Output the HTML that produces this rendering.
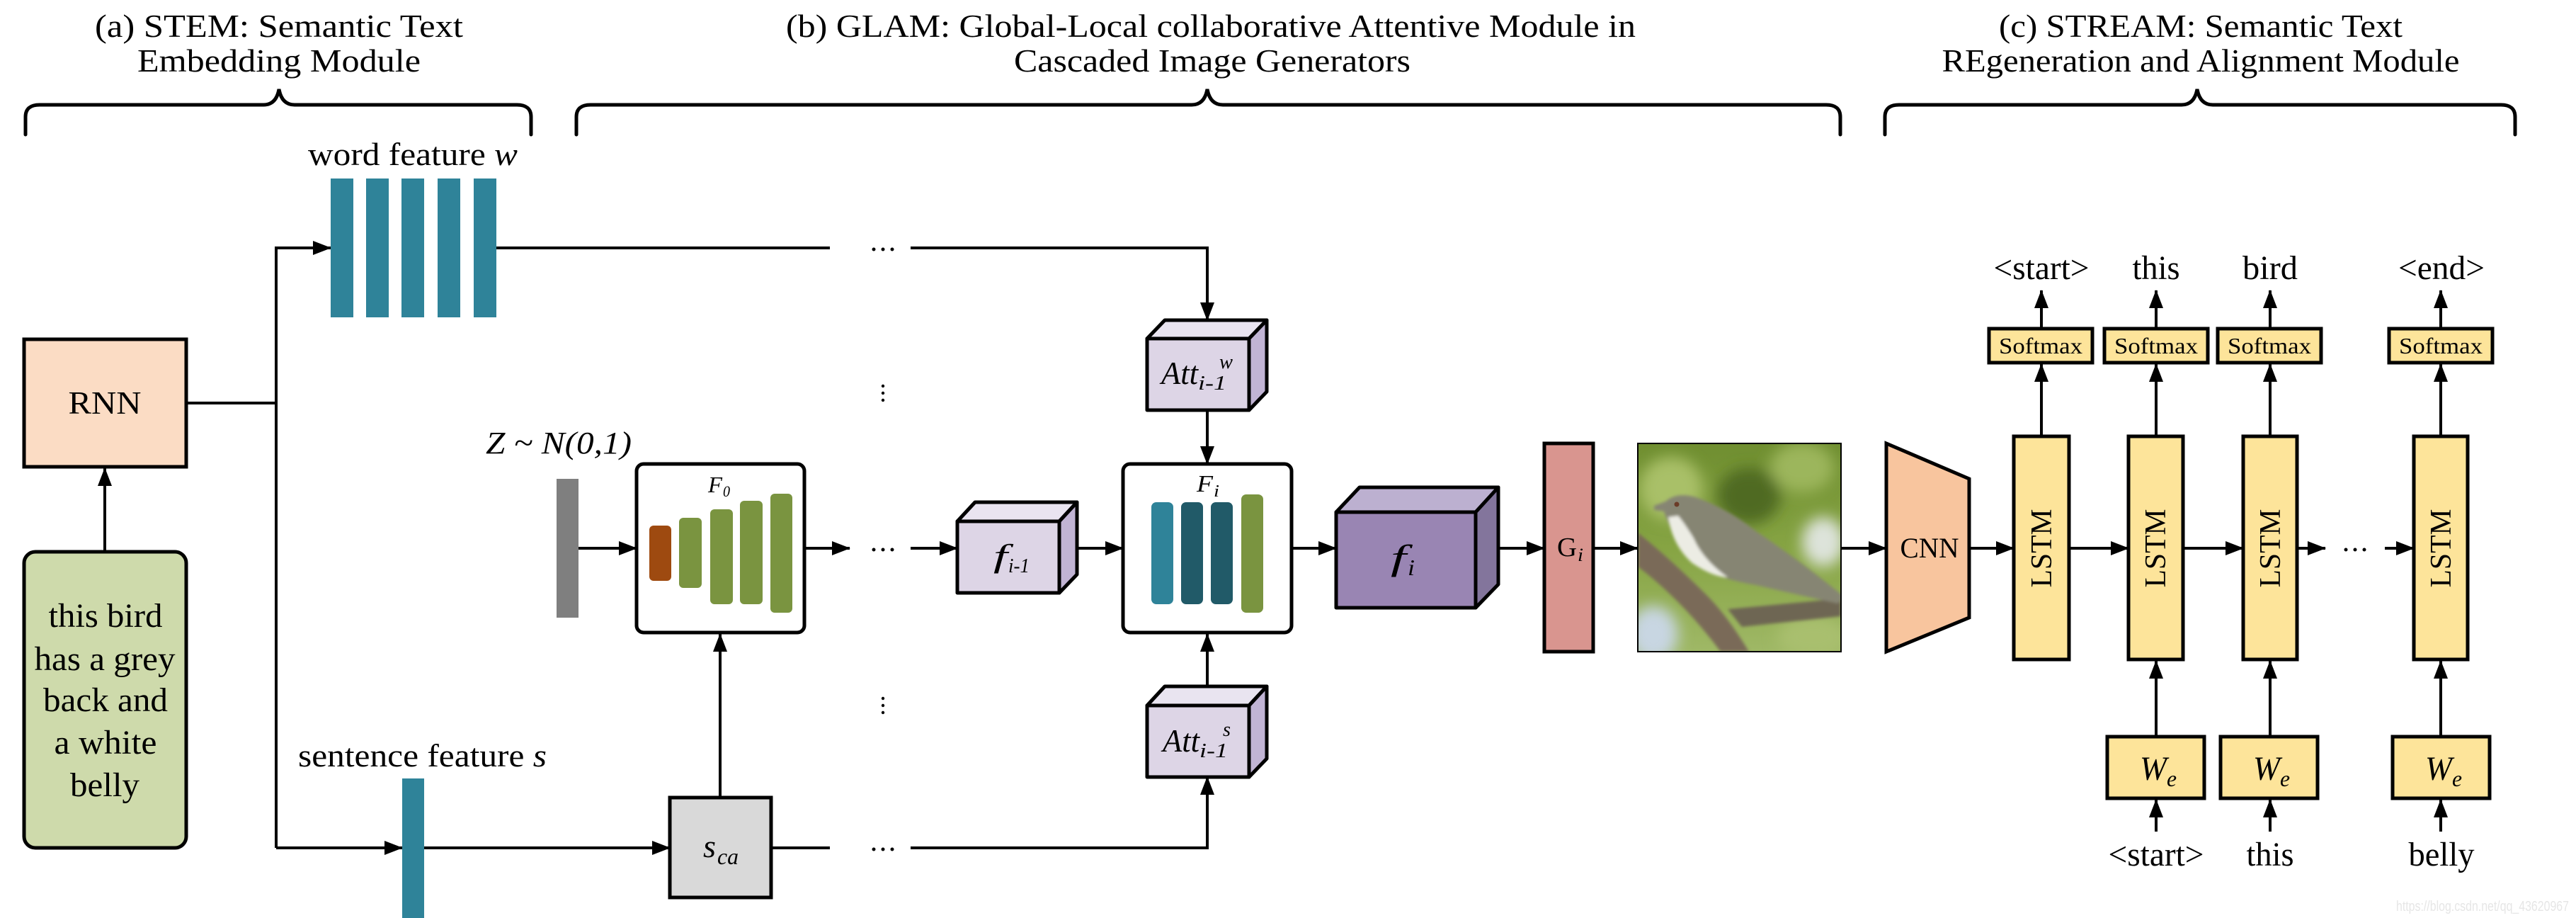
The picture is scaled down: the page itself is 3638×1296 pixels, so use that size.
<!DOCTYPE html>
<html><head><meta charset="utf-8"><style>
html,body{margin:0;padding:0;background:#fff;}
svg{display:block;font-family:"Liberation Serif","Times New Roman",Times,serif;}
svg text{font-family:"Liberation Serif","Times New Roman",Times,serif;fill:#000;}
.it{font-style:italic;}
</style></head><body>
<svg width="3638" height="1296" viewBox="0 0 3638 1296" xmlns="http://www.w3.org/2000/svg" font-family="Liberation Serif, Times New Roman, serif">
<defs>
<marker id="a" markerUnits="userSpaceOnUse" markerWidth="26" markerHeight="20" refX="25" refY="10" orient="auto"><path d="M0,0 L26,10 L0,20 z" fill="#000"/></marker>
<linearGradient id="bg" x1="0" y1="0" x2="0" y2="1"><stop offset="0" stop-color="#6f8e30"/><stop offset="0.5" stop-color="#86a443"/><stop offset="1" stop-color="#9fb866"/></linearGradient>
<clipPath id="ic"><rect x="2313" y="626" width="287" height="294"/></clipPath>
<filter id="bl"><feGaussianBlur stdDeviation="10"/></filter>
<filter id="bl2"><feGaussianBlur stdDeviation="2"/></filter>
</defs>

<g font-size="46">
<text x="394" y="52" text-anchor="middle" textLength="520" lengthAdjust="spacingAndGlyphs">(a) STEM: Semantic Text</text>
<text x="394" y="101" text-anchor="middle" textLength="400" lengthAdjust="spacingAndGlyphs">Embedding Module</text>
<text x="1710" y="52" text-anchor="middle" textLength="1200" lengthAdjust="spacingAndGlyphs">(b) GLAM: Global-Local collaborative Attentive Module in</text>
<text x="1712" y="101" text-anchor="middle" textLength="560" lengthAdjust="spacingAndGlyphs">Cascaded Image Generators</text>
<text x="3108" y="52" text-anchor="middle" textLength="570" lengthAdjust="spacingAndGlyphs">(c) STREAM: Semantic Text</text>
<text x="3108" y="101" text-anchor="middle" textLength="731" lengthAdjust="spacingAndGlyphs">REgeneration and Alignment Module</text>
</g>

<g fill="none" stroke="#000" stroke-width="5" stroke-linecap="round">
<path d="M36,190 L36,165 Q36,148 56,148 L372,148 Q390,148 394,126 Q398,148 416,148 L730,148 Q750,148 750,165 L750,190"/>
<path d="M814,190 L814,165 Q814,148 834,148 L1683,148 Q1701,148 1705,126 Q1709,148 1727,148 L2579,148 Q2599,148 2599,165 L2599,190"/>
<path d="M2662,190 L2662,165 Q2662,148 2682,148 L3081,148 Q3099,148 3103,126 Q3107,148 3125,148 L3532,148 Q3552,148 3552,165 L3552,190"/>
</g>

<g fill="none" stroke="#000" stroke-width="4">
<path d="M148,779 L148,661" marker-end="url(#a)"/>
<path d="M263,569 L390,569"/>
<path d="M390,1197 L390,350 L467,350" marker-end="url(#a)"/>
<path d="M390,1197 L568,1197" marker-end="url(#a)"/>
<path d="M599,1197 L946,1197" marker-end="url(#a)"/>
<path d="M1017,1126 L1017,895" marker-end="url(#a)"/>
<path d="M817,774 L899,774" marker-end="url(#a)"/>
<path d="M1136,774 L1200,774" marker-end="url(#a)"/>
<path d="M701,350 L1172,350"/>
<path d="M1286,350 L1705,350 L1705,452" marker-end="url(#a)"/>
<path d="M1705,579 L1705,655" marker-end="url(#a)"/>
<path d="M1089,1197 L1172,1197"/>
<path d="M1286,1197 L1705,1197 L1705,1097" marker-end="url(#a)"/>
<path d="M1705,969 L1705,895" marker-end="url(#a)"/>
<path d="M1286,774 L1352,774" marker-end="url(#a)"/>
<path d="M1521,774 L1586,774" marker-end="url(#a)"/>
<path d="M1824,774 L1887,774" marker-end="url(#a)"/>
<path d="M2116,774 L2181,774" marker-end="url(#a)"/>
<path d="M2250,774 L2313,774" marker-end="url(#a)"/>
<path d="M2600,774 L2664,774" marker-end="url(#a)"/>
<path d="M2781,774 L2844,774" marker-end="url(#a)"/>
<path d="M2922,774 L3006,774" marker-end="url(#a)"/>
<path d="M3083,774 L3168,774" marker-end="url(#a)"/>
<path d="M3244,774 L3284,774" marker-end="url(#a)"/>
<path d="M3368,774 L3409,774" marker-end="url(#a)"/>
<path d="M2883,616 L2883,514" marker-end="url(#a)"/>
<path d="M2883,464 L2883,410" marker-end="url(#a)"/>
<path d="M3045,616 L3045,514" marker-end="url(#a)"/>
<path d="M3045,464 L3045,410" marker-end="url(#a)"/>
<path d="M3206,616 L3206,514" marker-end="url(#a)"/>
<path d="M3206,464 L3206,410" marker-end="url(#a)"/>
<path d="M3447,616 L3447,514" marker-end="url(#a)"/>
<path d="M3447,464 L3447,410" marker-end="url(#a)"/>
<path d="M3045,1040 L3045,933" marker-end="url(#a)"/>
<path d="M3045,1174 L3045,1129" marker-end="url(#a)"/>
<path d="M3206,1040 L3206,933" marker-end="url(#a)"/>
<path d="M3206,1174 L3206,1129" marker-end="url(#a)"/>
<path d="M3447,1040 L3447,933" marker-end="url(#a)"/>
<path d="M3447,1174 L3447,1129" marker-end="url(#a)"/>
</g>

<g fill="#000">
<circle cx="1234" cy="352" r="2.5"/><circle cx="1247" cy="352" r="2.5"/><circle cx="1260" cy="352" r="2.5"/>
<circle cx="1234" cy="1199" r="2.5"/><circle cx="1247" cy="1199" r="2.5"/><circle cx="1260" cy="1199" r="2.5"/>
<circle cx="1234" cy="776" r="2.5"/><circle cx="1247" cy="776" r="2.5"/><circle cx="1260" cy="776" r="2.5"/>
<circle cx="3313" cy="776" r="2.5"/><circle cx="3326" cy="776" r="2.5"/><circle cx="3339" cy="776" r="2.5"/>
<circle cx="1247" cy="545" r="2.2"/><circle cx="1247" cy="555" r="2.2"/><circle cx="1247" cy="565" r="2.2"/>
<circle cx="1247" cy="986" r="2.2"/><circle cx="1247" cy="996" r="2.2"/><circle cx="1247" cy="1006" r="2.2"/>
</g>

<!-- STEM -->
<rect x="34" y="479" width="229" height="180" fill="#fbdcc4" stroke="#000" stroke-width="5"/>
<text x="148" y="584" font-size="46" text-anchor="middle" textLength="103" lengthAdjust="spacingAndGlyphs">RNN</text>
<rect x="34" y="779" width="229" height="418" rx="16" fill="#cedaab" stroke="#000" stroke-width="5"/>
<g font-size="48" text-anchor="middle">
<text x="149" y="885" textLength="161" lengthAdjust="spacingAndGlyphs">this bird</text>
<text x="148" y="946" textLength="199" lengthAdjust="spacingAndGlyphs">has a grey</text>
<text x="149" y="1004" textLength="176" lengthAdjust="spacingAndGlyphs">back and</text>
<text x="149" y="1064" textLength="145" lengthAdjust="spacingAndGlyphs">a white</text>
<text x="148" y="1124" textLength="98" lengthAdjust="spacingAndGlyphs">belly</text>
</g>
<text x="435" y="233" font-size="46" textLength="296" lengthAdjust="spacingAndGlyphs">word feature <tspan class="it">w</tspan></text>
<g fill="#2f8399">
<rect x="467" y="252" width="32" height="196"/><rect x="517" y="252" width="32" height="196"/><rect x="567" y="252" width="32" height="196"/><rect x="618" y="252" width="32" height="196"/><rect x="669" y="252" width="32" height="196"/>
<rect x="568" y="1099" width="31" height="197"/>
</g>
<text x="421" y="1082" font-size="46" textLength="351" lengthAdjust="spacingAndGlyphs">sentence feature <tspan class="it">s</tspan></text>

<!-- GLAM -->
<text x="686" y="640" font-size="44" class="it" textLength="206" lengthAdjust="spacingAndGlyphs">Z ~ N(0,1)</text>
<rect x="786" y="676" width="31" height="196" fill="#7f7f7f"/>
<rect x="899" y="655" width="237" height="238" rx="10" fill="#fff" stroke="#000" stroke-width="5"/>
<text x="1000" y="695" font-size="32" class="it" textLength="20" lengthAdjust="spacingAndGlyphs">F</text>
<text x="1021" y="701" font-size="22" class="it" textLength="10" lengthAdjust="spacingAndGlyphs">0</text>
<rect x="917" y="742" width="31" height="78" rx="6" fill="#9e4a10"/>
<g fill="#7a9440">
<rect x="959" y="731" width="32" height="99" rx="6"/><rect x="1003" y="719" width="32" height="134" rx="6"/><rect x="1045" y="707" width="32" height="146" rx="6"/><rect x="1088" y="697" width="31" height="168" rx="6"/>
</g>
<rect x="946" y="1126" width="143" height="141" fill="#d9d9d9" stroke="#000" stroke-width="5"/>
<text x="993" y="1210" font-size="46" class="it" textLength="18" lengthAdjust="spacingAndGlyphs">s</text>
<text x="1013" y="1220" font-size="32" class="it" textLength="30" lengthAdjust="spacingAndGlyphs">ca</text>

<g stroke="#000" stroke-width="5" stroke-linejoin="round">
<polygon points="1620,478 1645,452 1789,452 1764,478" fill="#e9e4f0"/>
<polygon points="1764,478 1789,452 1789,553 1764,579" fill="#c1b4d4"/>
<rect x="1620" y="478" width="144" height="101" fill="#ddd5e6"/>
<polygon points="1620,996 1645,969 1789,969 1764,996" fill="#e9e4f0"/>
<polygon points="1764,996 1789,969 1789,1071 1764,1097" fill="#c1b4d4"/>
<rect x="1620" y="996" width="144" height="101" fill="#ddd5e6"/>
<polygon points="1352,736 1377,709 1521,709 1496,736" fill="#e9e4f0"/>
<polygon points="1496,736 1521,709 1521,811 1496,837" fill="#c1b4d4"/>
<rect x="1352" y="736" width="144" height="101" fill="#ddd5e6"/>
<polygon points="1887,723 1920,688 2116,688 2084,723" fill="#bcb0d0"/>
<polygon points="2084,723 2116,688 2116,825 2084,858" fill="#83759c"/>
<rect x="1887" y="723" width="197" height="135" fill="#9985b3"/>
</g>
<g class="it">
<text x="1640" y="542" font-size="46" textLength="52" lengthAdjust="spacingAndGlyphs">Att</text>
<text x="1692" y="550" font-size="28" textLength="40" lengthAdjust="spacingAndGlyphs">i-1</text>
<text x="1722" y="520" font-size="28" textLength="19" lengthAdjust="spacingAndGlyphs">w</text>
<text x="1642" y="1061" font-size="46" textLength="52" lengthAdjust="spacingAndGlyphs">Att</text>
<text x="1694" y="1069" font-size="28" textLength="40" lengthAdjust="spacingAndGlyphs">i-1</text>
<text x="1727" y="1039" font-size="28" textLength="11" lengthAdjust="spacingAndGlyphs">s</text>
<text x="1403" y="800" font-size="46" textLength="20" lengthAdjust="spacingAndGlyphs">f</text>
<text x="1424" y="808" font-size="28" textLength="30" lengthAdjust="spacingAndGlyphs">i-1</text>
<text x="1964" y="804" font-size="50" textLength="22" lengthAdjust="spacingAndGlyphs">f</text>
<text x="1988" y="812" font-size="32" textLength="10" lengthAdjust="spacingAndGlyphs">i</text>
</g>

<rect x="1586" y="655" width="238" height="238" rx="10" fill="#fff" stroke="#000" stroke-width="5"/>
<text x="1690" y="694" font-size="34" class="it" textLength="23" lengthAdjust="spacingAndGlyphs">F</text>
<text x="1714" y="701" font-size="24" class="it" textLength="8" lengthAdjust="spacingAndGlyphs">i</text>
<rect x="1626" y="709" width="31" height="144" rx="7" fill="#2f8399"/>
<rect x="1668" y="709" width="31" height="144" rx="7" fill="#215a68"/>
<rect x="1710" y="709" width="31" height="144" rx="7" fill="#215a68"/>
<rect x="1753" y="698" width="31" height="167" rx="7" fill="#7a9440"/>

<rect x="2181" y="626" width="69" height="294" fill="#d9958f" stroke="#000" stroke-width="5"/>
<text x="2199" y="785" font-size="38" textLength="28" lengthAdjust="spacingAndGlyphs">G</text>
<text x="2228" y="792" font-size="26" class="it" textLength="8" lengthAdjust="spacingAndGlyphs">i</text>

<!-- bird image -->
<g clip-path="url(#ic)">
<rect x="2313" y="626" width="287" height="294" fill="url(#bg)"/>
<g filter="url(#bl)">
<ellipse cx="2360" cy="690" rx="45" ry="45" fill="#a9c068"/>
<ellipse cx="2545" cy="660" rx="45" ry="35" fill="#9cb65c"/>
<ellipse cx="2470" cy="700" rx="45" ry="40" fill="#4f6b22"/>
<ellipse cx="2575" cy="765" rx="30" ry="35" fill="#dde3da"/>
<ellipse cx="2335" cy="895" rx="35" ry="40" fill="#c8d6e2"/>
<ellipse cx="2560" cy="900" rx="50" ry="30" fill="#a9bf6e"/>
</g>
<g filter="url(#bl2)">
<path d="M2313,752 Q2360,790 2410,840 Q2440,870 2470,920 L2430,920 Q2400,880 2370,850 Q2340,820 2313,800 Z" fill="#7a6a58"/>
<path d="M2440,860 L2600,845 L2600,870 L2460,885 Z" fill="#6e6652"/>
<path d="M2336,714 L2352,708 Q2368,694 2395,702 Q2440,718 2480,750 Q2540,790 2604,842 L2596,852 Q2540,840 2480,826 Q2430,818 2400,800 Q2372,780 2362,750 Q2352,730 2350,722 L2336,720 Z" fill="#868573"/>
<path d="M2356,730 Q2362,770 2390,795 Q2420,815 2440,815 Q2405,790 2392,760 Q2380,740 2370,728 Z" fill="#ecece4"/>
</g>
<circle cx="2368" cy="712" r="3.5" fill="#6b3c28"/>
</g>
<rect x="2313" y="626" width="287" height="294" fill="none" stroke="#000" stroke-width="2"/>

<!-- STREAM -->
<polygon points="2664,626 2781,676 2781,872 2664,920" fill="#f8c59e" stroke="#000" stroke-width="5" stroke-linejoin="miter"/>
<text x="2725" y="787" font-size="40" text-anchor="middle" textLength="83" lengthAdjust="spacingAndGlyphs">CNN</text>
<g fill="#fde49a" stroke="#000" stroke-width="5">
<rect x="2844" y="616" width="78" height="315"/><rect x="3006" y="616" width="77" height="315"/><rect x="3168" y="616" width="76" height="315"/><rect x="3409" y="616" width="76" height="315"/>
<rect x="2809" y="464" width="146" height="48"/><rect x="2972" y="464" width="146" height="48"/><rect x="3132" y="464" width="146" height="48"/><rect x="3374" y="464" width="146" height="48"/>
<rect x="2976" y="1040" width="137" height="87"/><rect x="3136" y="1040" width="137" height="87"/><rect x="3379" y="1040" width="137" height="87"/>
</g>
<g font-size="42" text-anchor="middle">
<text transform="translate(2897,774) rotate(-90)" textLength="111" lengthAdjust="spacingAndGlyphs">LSTM</text>
<text transform="translate(3058,774) rotate(-90)" textLength="111" lengthAdjust="spacingAndGlyphs">LSTM</text>
<text transform="translate(3220,774) rotate(-90)" textLength="111" lengthAdjust="spacingAndGlyphs">LSTM</text>
<text transform="translate(3461,774) rotate(-90)" textLength="111" lengthAdjust="spacingAndGlyphs">LSTM</text>
</g>
<g font-size="32" text-anchor="middle">
<text x="2882" y="499" textLength="118" lengthAdjust="spacingAndGlyphs">Softmax</text>
<text x="3045" y="499" textLength="118" lengthAdjust="spacingAndGlyphs">Softmax</text>
<text x="3205" y="499" textLength="118" lengthAdjust="spacingAndGlyphs">Softmax</text>
<text x="3447" y="499" textLength="118" lengthAdjust="spacingAndGlyphs">Softmax</text>
</g>
<g class="it">
<text x="3022" y="1101" font-size="48" textLength="38" lengthAdjust="spacingAndGlyphs">W</text>
<text x="3060" y="1110" font-size="32" textLength="14" lengthAdjust="spacingAndGlyphs">e</text>
<text x="3182" y="1101" font-size="48" textLength="38" lengthAdjust="spacingAndGlyphs">W</text>
<text x="3220" y="1110" font-size="32" textLength="14" lengthAdjust="spacingAndGlyphs">e</text>
<text x="3425" y="1101" font-size="48" textLength="38" lengthAdjust="spacingAndGlyphs">W</text>
<text x="3463" y="1110" font-size="32" textLength="14" lengthAdjust="spacingAndGlyphs">e</text>
</g>
<g font-size="48" text-anchor="middle">
<text x="2883" y="394" textLength="135" lengthAdjust="spacingAndGlyphs">&lt;start&gt;</text>
<text x="3045" y="394" textLength="67" lengthAdjust="spacingAndGlyphs">this</text>
<text x="3206" y="394" textLength="78" lengthAdjust="spacingAndGlyphs">bird</text>
<text x="3448" y="394" textLength="122" lengthAdjust="spacingAndGlyphs">&lt;end&gt;</text>
<text x="3045" y="1222" textLength="135" lengthAdjust="spacingAndGlyphs">&lt;start&gt;</text>
<text x="3206" y="1222" textLength="67" lengthAdjust="spacingAndGlyphs">this</text>
<text x="3448" y="1222" textLength="93" lengthAdjust="spacingAndGlyphs">belly</text>
</g>
<text x="3384" y="1286" font-size="20" style="font-family:'Liberation Sans',sans-serif;fill:#e6e6e6" textLength="244" lengthAdjust="spacingAndGlyphs">https://blog.csdn.net/qq_43620967</text>
</svg>
</body></html>
